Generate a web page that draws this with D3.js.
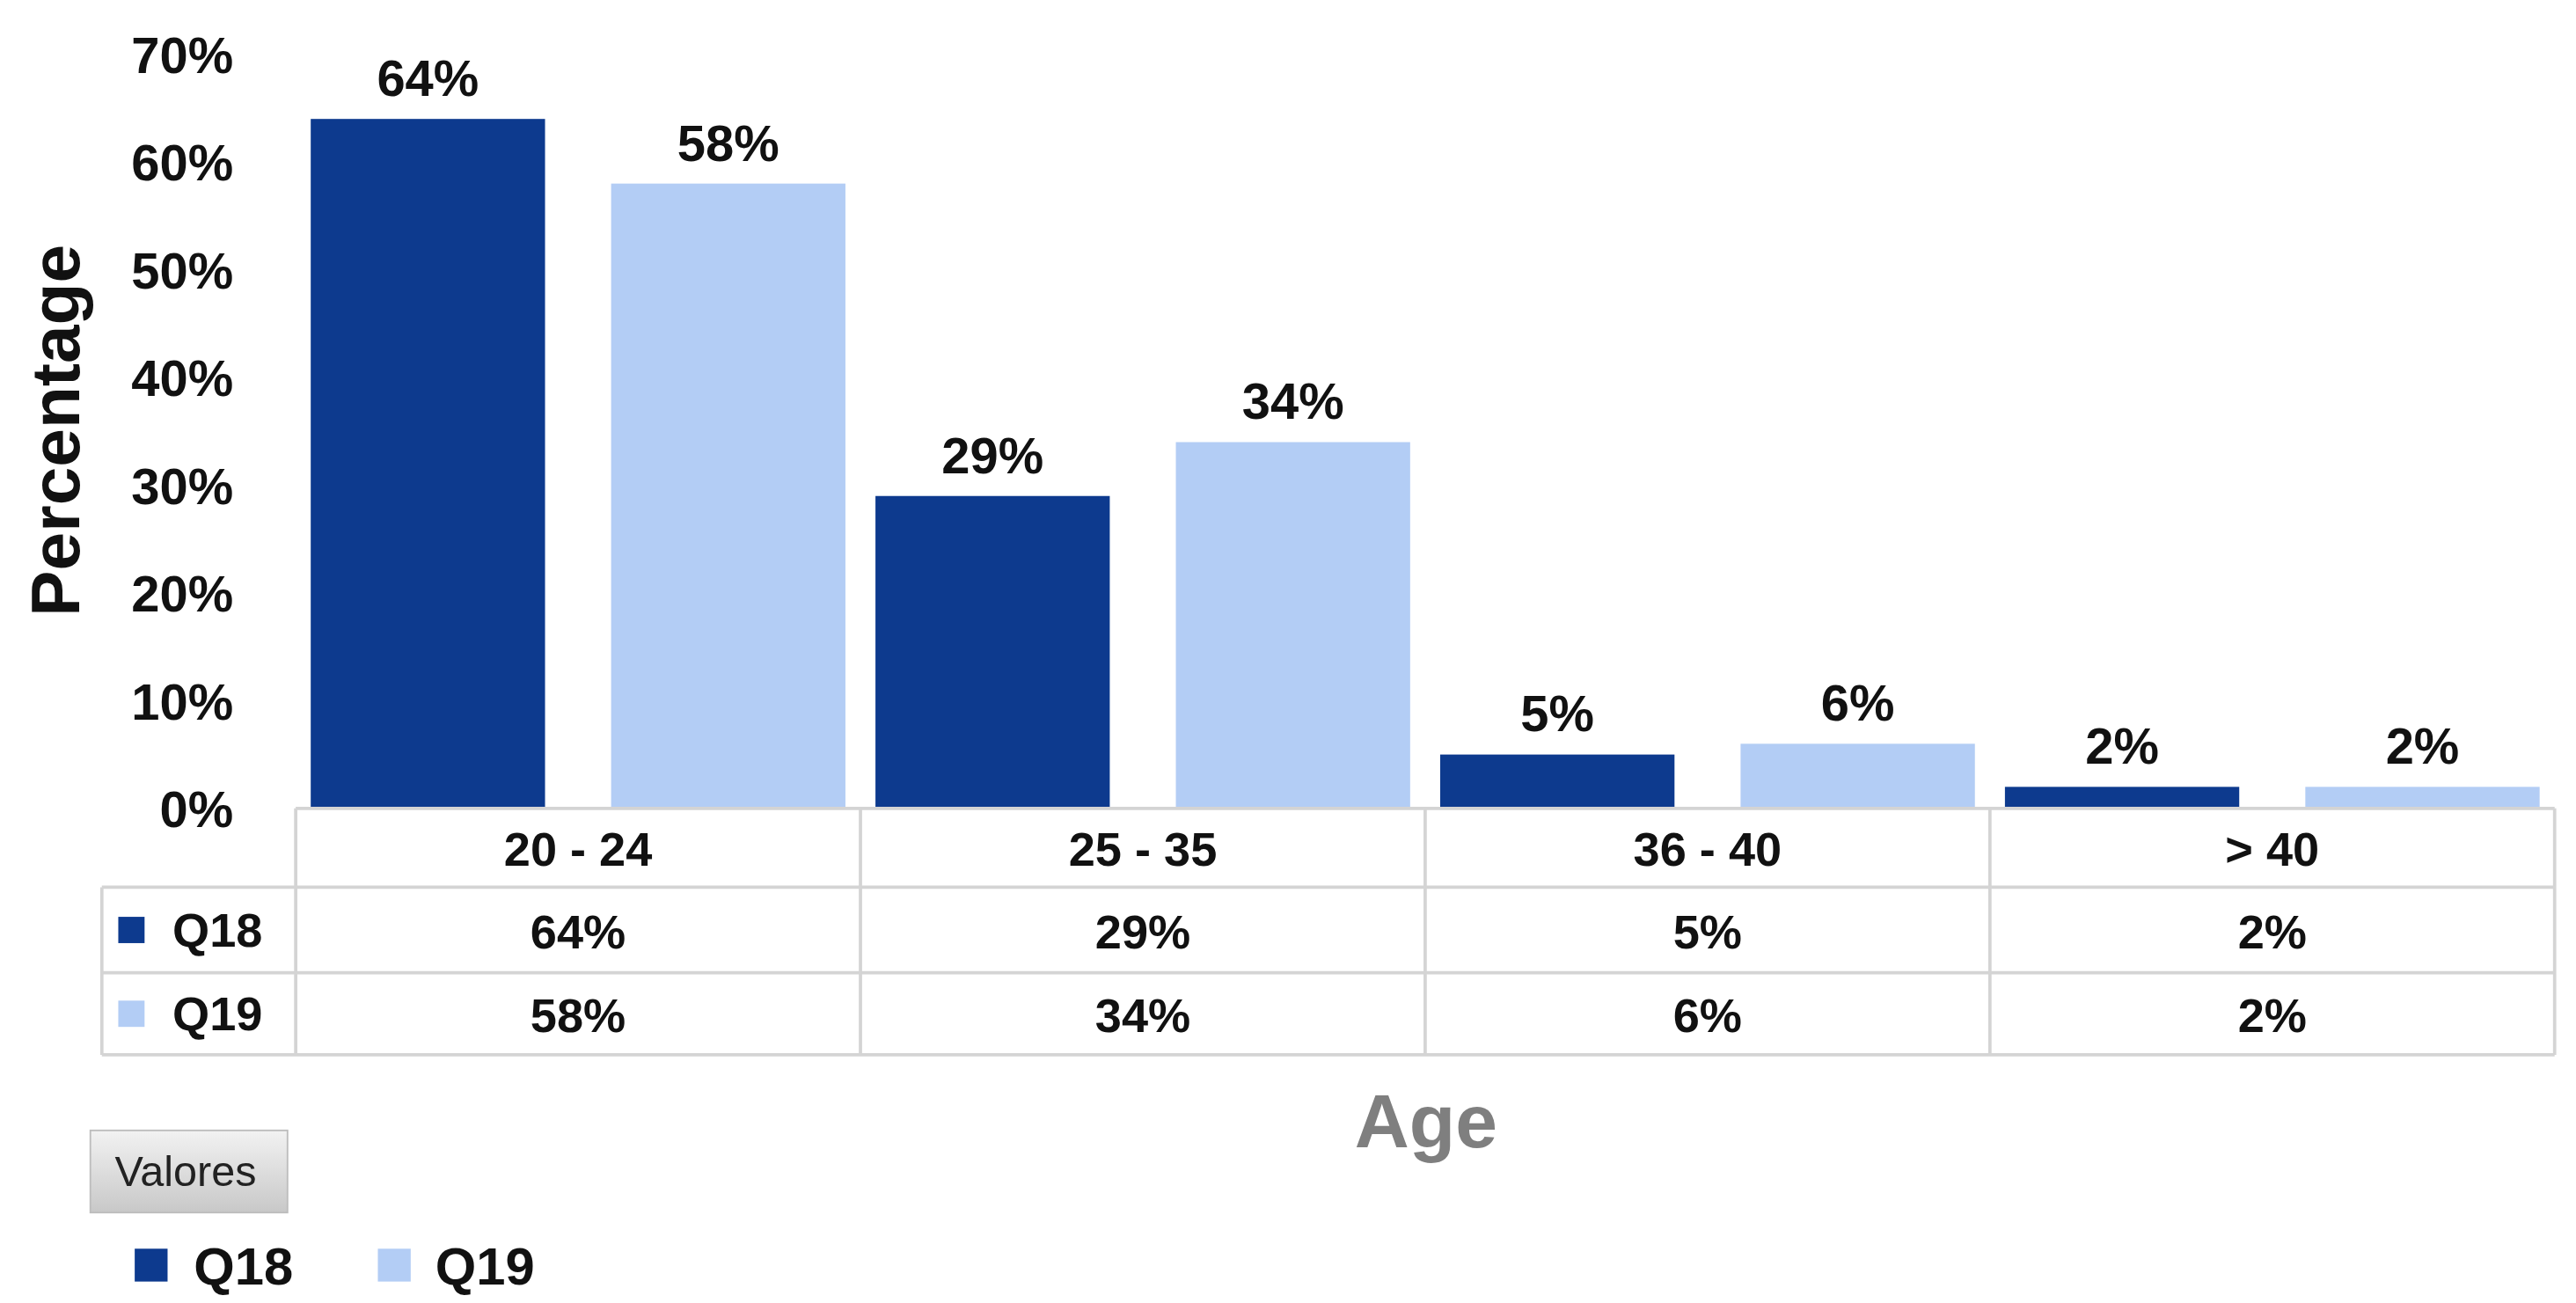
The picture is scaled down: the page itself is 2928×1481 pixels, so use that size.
<!DOCTYPE html><html><head><meta charset="utf-8">
<script src="https://cdn.jsdelivr.net/npm/d3@7"></script>
<style>body{margin:0;background:#fff}</style></head><body>
<script>
const categories=["20 - 24","25 - 35","36 - 40","> 40"];
const seriesNames=["Q18","Q19"];
const q18=[64,29,5,2];
const q19=[58,34,6,2];
const yTicks=[0,10,20,30,40,50,60,70];
const colors=["#0d3a8e","#b3cdf5"];
const W=1568,H=793;
const svg=d3.select("body").append("svg").attr("width",2928).attr("height",1481).attr("viewBox",`0 0 ${W} ${H}`)
 .style("font-family","'Liberation Sans',Arial,sans-serif").style("font-weight","bold");
const x0=180,x1=1555,yTop=33,yBot=492;
const x=d3.scaleBand().domain(categories).range([x0,x1]);
const xs=d3.scaleBand().domain(seriesNames).range([0,x.bandwidth()]).paddingInner(0.22).paddingOuter(0.05);
const y=d3.scaleLinear().domain([0,70]).range([yBot,yTop]);
const series=[q18,q19];
series.forEach((vals,si)=>{
 const g=svg.append("g");
 g.selectAll("rect").data(vals).join("rect").attr("x",(d,i)=>x(categories[i])+xs(seriesNames[si])).attr("width",xs.bandwidth())
  .attr("y",d=>y(d)).attr("height",d=>yBot-y(d)).attr("fill",colors[si]);
 g.selectAll("text").data(vals).join("text").attr("x",(d,i)=>x(categories[i])+xs(seriesNames[si])+xs.bandwidth()/2)
  .attr("y",d=>y(d)-14).attr("text-anchor","middle").attr("font-size",31).attr("fill","#111").text(d=>d+"%");
});
const ax=svg.append("g").attr("transform",`translate(145,0)`).call(d3.axisLeft(y).tickValues(yTicks).tickFormat(d=>d+"%").tickSize(0));
ax.select(".domain").remove();
ax.selectAll("text").attr("font-size",31).attr("font-family","'Liberation Sans',Arial,sans-serif").attr("font-weight","bold").attr("fill","#111").attr("dy","0.35em");
svg.append("text").attr("transform","translate(48,262) rotate(-90)").attr("text-anchor","middle").attr("font-size",42).attr("fill","#111").text("Percentage");
// table
const rows=[492,540,592,642];
const line=(a,b,c,d)=>svg.append("line").attr("x1",a).attr("y1",b).attr("x2",c).attr("y2",d).attr("stroke","#d4d4d4").attr("stroke-width",2);
line(x0,rows[0],x1,rows[0]);
[1,2,3].forEach(r=>line(62,rows[r],x1,rows[r]));
line(62,rows[1],62,rows[3]);
categories.forEach(c=>line(x(c),rows[0],x(c),rows[3]));
line(x1,rows[0],x1,rows[3]);
svg.append("g").selectAll("text").data(categories).join("text").attr("x",d=>x(d)+x.bandwidth()/2).attr("y",(rows[0]+rows[1])/2+11)
 .attr("text-anchor","middle").attr("font-size",29).attr("fill","#111").text(d=>d);
series.forEach((vals,si)=>{
 const cy=(rows[si+1]+rows[si+2])/2;
 svg.append("rect").attr("x",72).attr("y",cy-8).attr("width",16).attr("height",16).attr("fill",colors[si]);
 svg.append("text").attr("x",105).attr("y",cy+10).attr("font-size",29).attr("fill","#111").text(seriesNames[si]);
 svg.append("g").selectAll("text").data(vals).join("text").attr("x",(d,i)=>x(categories[i])+x.bandwidth()/2).attr("y",cy+11)
  .attr("text-anchor","middle").attr("font-size",29).attr("fill","#111").text(d=>d+"%");
});
svg.append("text").attr("x",868).attr("y",698).attr("text-anchor","middle").attr("font-size",46).attr("fill","#7f7f7f").text("Age");
// Valores button
const grad=svg.append("defs").append("linearGradient").attr("id","gb").attr("x1",0).attr("y1",0).attr("x2",0).attr("y2",1);
grad.append("stop").attr("offset","0").attr("stop-color","#f2f2f2");
grad.append("stop").attr("offset","1").attr("stop-color","#c8c8c8");
svg.append("rect").attr("x",55).attr("y",688).attr("width",120).attr("height",50).attr("fill","url(#gb)").attr("stroke","#bdbdbd");
svg.append("text").attr("x",113).attr("y",722).attr("text-anchor","middle").attr("font-size",26).attr("font-weight","normal").attr("fill","#222").text("Valores");
// legend
[[82,118],[230,265]].forEach(([rx,tx],i)=>{
 svg.append("rect").attr("x",rx).attr("y",760).attr("width",20).attr("height",20).attr("fill",colors[i]);
 svg.append("text").attr("x",tx).attr("y",782).attr("font-size",32).attr("fill","#111").text(seriesNames[i]);
});
</script></body></html>
